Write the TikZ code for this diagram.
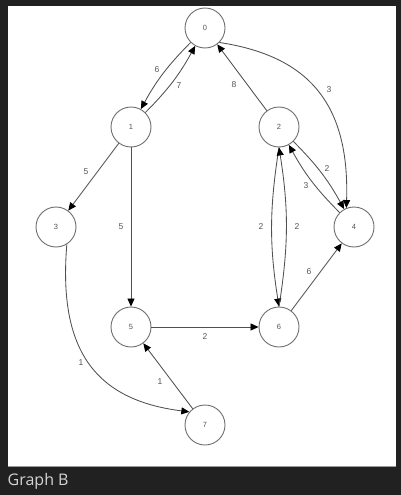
\documentclass[tikz,border=0pt]{standalone}
\usepackage{fontspec}
\setmainfont{Liberation Sans}
\newfontfamily\capfont{Open Sans}
\usetikzlibrary{arrows.meta}
\definecolor{bgdark}{HTML}{212121}
\definecolor{edgegray}{HTML}{505050}
\definecolor{circgray}{HTML}{6E6E6E}
\definecolor{txtgray}{HTML}{555555}
\definecolor{linegray}{HTML}{9A9A9A}
\definecolor{captxt}{HTML}{D4D4D4}
\begin{document}
\begin{tikzpicture}[x=1pt,y=1pt,
  vert/.style={circle, draw=circgray, line width=0.9pt, minimum size=40pt, inner sep=0pt,
    font=\fontsize{7.5}{8}\selectfont, text=txtgray},
  arc/.style={draw=edgegray, line width=0.85pt, -{Triangle[length=8pt,width=7pt,black]}},
  wt/.style={font=\fontsize{8.5}{9}\selectfont, text=txtgray, inner sep=0pt}]
\fill[bgdark] (0,0) rectangle (401,-495);
\useasboundingbox (0,0) rectangle (401,-495);
\fill[white] (8,-6) rectangle (396,-466);
\draw[linegray, line width=1pt] (8,-466.5) -- (396,-466.5);
\node[anchor=base west, inner sep=0pt, text=captxt, font=\capfont\fontsize{16}{18}\selectfont] (cap) at (7.5,-485) {Graph B};

\node[vert] (n0) at (205,-28) {0};
\node[vert] (n1) at (131,-127) {1};
\node[vert] (n2) at (279,-127) {2};
\node[vert] (n3) at (56,-227) {3};
\node[vert] (n4) at (354,-227) {4};
\node[vert] (n5) at (131,-327) {5};
\node[vert] (n6) at (279,-327) {6};
\node[vert] (n7) at (205,-425) {7};

\draw[arc] (n0) to[bend right=8] (n1) node[wt] at (157,-70) {6};
\draw[arc] (n1) to[bend right=8] (n0) node[wt] at (179,-86) {7};
\draw[arc] (n2) -- (n0) node[wt] at (234,-85) {8};
\draw[arc] (n0.-45) .. controls (300,-55) and (350,-95) .. (n4.112) node[wt] at (329,-90) {3};
\draw[arc] (n1) -- (n3) node[wt] at (86,-172) {5};
\draw[arc] (n1) -- (n5) node[wt] at (121,-227) {5};
\draw[arc] (n2) to[bend left=8] (n4) node[wt] at (327,-169) {2};
\draw[arc] (n4) to[bend left=8] (n2) node[wt] at (306,-186) {3};
\draw[arc] (n2.south) to[bend right=9] (n6.north) node[wt] at (261,-227) {2};
\draw[arc] (n6.north) to[bend right=9] (n2.south) node[wt] at (297,-227) {2};
\draw[arc] (n6) -- (n4) node[wt] at (309,-272) {6};
\draw[arc] (n5) -- (n6) node[wt] at (205,-337) {2};
\draw[arc] (n3.-58) .. controls (58,-350) and (95,-400) .. (n7.140) node[wt] at (81,-363) {1};
\draw[arc] (n7) -- (n5) node[wt] at (160,-382) {1};
\end{tikzpicture}
\end{document}
